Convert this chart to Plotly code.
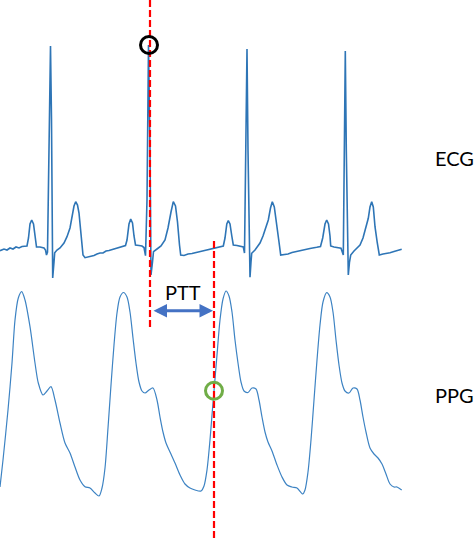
import plotly.graph_objects as go

# ECG trace (x = horizontal position, y = level measured from the top)
ecg_x = [0, 4, 7, 10, 13, 16, 19, 22, 27,
         28.5, 30, 31.7, 33.5, 35, 36.5, 40, 44, 45.5,
         46.5, 47.5, 49, 50.5, 51.5, 52.7, 54, 54.7, 57, 60, 64, 67, 70, 72, 74, 75.7, 77.5, 79, 81, 83, 85,
         88, 91, 94, 97, 100, 103, 106, 109, 112, 115, 117, 120, 123, 125.5,
         127, 129, 130.7, 132.5, 134, 135.5, 139, 142, 144,
         145.5, 147, 148.5, 150, 151, 152.5, 153.5, 157, 161, 165, 168, 171, 173.3, 175.5, 177.5, 179.5, 180.7,
         184, 188, 192, 196, 200, 204, 208, 213, 218, 223.3,
         225, 226.8, 228.3, 230, 231.8, 233.3, 237, 241, 243.3,
         244.5, 246, 247, 248, 250, 251, 251.7, 255, 258, 260, 263, 266, 268.3, 270.5, 272.3, 274.3, 276.7, 279, 280.7,
         284, 288, 292, 296, 300, 305, 310, 316.7, 320.5,
         322.7, 325, 326.7, 328.5, 330, 330.7, 334, 338, 341,
         343.3, 344.5, 345.3, 346.3, 348.3, 349.5, 350.7, 354, 357, 360, 363, 366, 368.3, 370, 371.7, 373.3, 375, 377.3, 379.3,
         383, 387, 390, 394, 398, 401.7]
ecg_y = [250.7, 249, 250, 248, 249, 247, 248, 246.5, 246,
         238, 224, 220, 224, 238, 247, 247, 248, 250,
         255, 252, 120, 46, 120, 278, 262, 252.7, 250, 248, 243, 236.7, 228, 216.7, 206, 201.7, 205, 213, 232, 255, 257.7,
         257, 256, 255.5, 254, 253, 253, 251, 250.5, 249.5, 249, 248.3, 247, 246.5, 245.5,
         240, 224, 219, 223, 236, 245, 245.5, 246, 247.5,
         255.7, 200, 45, 150, 275, 262, 251.7, 249, 246, 240, 228, 212, 201.7, 206, 222, 245, 255,
         255.5, 254, 253.5, 252.5, 251.7, 250.5, 249.5, 248.3, 247.5, 246,
         238, 224, 220.7, 224, 236, 245, 245.5, 246.5, 247,
         253, 150, 49, 150, 277.3, 262, 253.3, 250, 246, 243, 236, 228, 220, 208, 201.7, 207, 223, 242, 255,
         254.5, 254, 252.5, 251.5, 250.7, 249.5, 248.5, 247.3, 246.5,
         238, 224, 220, 224, 236, 246, 247, 248, 248.3,
         255, 150, 51, 150, 275, 262, 255, 251, 248, 245, 238, 228, 218.3, 207, 201.7, 207, 226.7, 243, 255,
         254, 253.5, 252.7, 251.5, 250.5, 249.3]

# PPG trace
ppg_x = [0, 3, 8, 12, 15, 18.3, 21.7, 25, 30, 35, 38.3, 43, 47, 51, 55, 60, 65, 70, 75, 80, 85, 90, 95, 99,
         102, 105, 108, 111, 114, 117, 120, 123.5, 127, 130, 133, 136, 139, 142, 145, 149, 153, 157, 160, 163,
         166, 170, 175, 180, 185, 190, 195, 201,
         204, 207, 210, 212, 214, 217, 220, 223, 226, 229, 232, 235, 238, 241, 244, 248, 252, 256, 259, 262,
         265, 268, 272, 277, 282, 287, 292, 297, 302.7,
         305, 308, 311, 314, 317, 320, 323, 326.7, 330, 333, 336, 339, 342, 345, 349, 353, 357, 360, 363,
         366, 370, 374, 378, 382, 386, 390, 394, 397, 401.7]
ppg_y = [487, 460, 410, 363, 320, 298, 291.7, 300, 326.7, 363, 383, 395, 391, 386.7, 400, 423, 443, 453, 467, 480, 486.7, 488, 493, 496,
         488, 468, 428, 385, 345, 313, 297, 292.5, 297, 312, 338, 363, 382, 391, 393, 390, 388, 400, 417, 432,
         443, 452, 463, 475, 484, 488, 490, 491,
         486, 470, 440, 415, 391, 355, 320, 299, 291, 296, 312, 340, 363, 382, 391, 392.5, 388, 389, 400, 417,
         432, 442, 451, 465, 477, 485, 487, 488, 494,
         490, 472, 440, 400, 360, 325, 302, 292.7, 297, 312, 340, 365, 383, 391, 393, 388, 389, 400, 417,
         432, 448, 454, 458, 464, 474, 484, 487, 487, 490]

# markers for the transit time
r_peak = (149, 45)
ppg_foot = (214, 390.7)
line1_x, line1_y = [150, 150], [0, 328]
line2_x, line2_y = [214, 214], [241, 541]
ptt_y = 310.7

fig = go.Figure()
fig.add_trace(go.Scatter(x=ecg_x, y=ecg_y, mode="lines", line={"color": "#2E75B6", "width": 1.6}))
fig.add_trace(go.Scatter(x=ppg_x, y=ppg_y, mode="lines",
                         line={"color": "#3D83C3", "width": 1.2, "shape": "spline", "smoothing": 0.8}))
for lx, ly in [(line1_x, line1_y), (line2_x, line2_y)]:
    fig.add_trace(go.Scatter(x=lx, y=ly, mode="lines",
                             line={"color": "#FF0000", "width": 2.2, "dash": "7px,3px"}))
fig.add_trace(go.Scatter(x=[r_peak[0]], y=[r_peak[1]], mode="markers",
                         marker={"symbol": "circle-open", "size": 17, "color": "black", "line": {"width": 3}}))
fig.add_trace(go.Scatter(x=[ppg_foot[0]], y=[ppg_foot[1]], mode="markers",
                         marker={"symbol": "circle-open", "size": 17, "color": "#70AD47", "line": {"width": 3}}))

fig.add_annotation(x=ppg_foot[0] - 1, y=ptt_y, ax=line1_x[0] + 2, ay=ptt_y, axref="x", ayref="y",
                   xref="x", yref="y", text="", showarrow=True, arrowside="end+start",
                   arrowhead=2, arrowsize=0.9, arrowwidth=3, arrowcolor="#4472C4", standoff=0, startstandoff=0)
fig.add_annotation(x=183, y=292, xref="x", yref="y", text="PTT", showarrow=False,
                   font={"size": 20, "color": "black"})
fig.add_annotation(x=433, y=158, xref="x", yref="y", text="ECG", showarrow=False, xanchor="left",
                   font={"size": 20, "color": "black"})
fig.add_annotation(x=433, y=395, xref="x", yref="y", text="PPG", showarrow=False, xanchor="left",
                   font={"size": 20, "color": "black"})

fig.update_layout(
    width=474,
    height=541,
    margin={"l": 0, "r": 0, "t": 0, "b": 0},
    paper_bgcolor="white",
    plot_bgcolor="white",
    showlegend=False,
    font={"family": "Lato, 'Open Sans', sans-serif"},
    xaxis={"range": [0, 474], "visible": False, "fixedrange": True},
    yaxis={"range": [541, 0], "visible": False, "fixedrange": True},
)

# drop the page's default body margin so the figure sits at the window's corner
fig.write_html("out.html", config={"displayModeBar": False},
               post_script="document.body.style.margin='0';document.body.style.overflow='hidden';")
